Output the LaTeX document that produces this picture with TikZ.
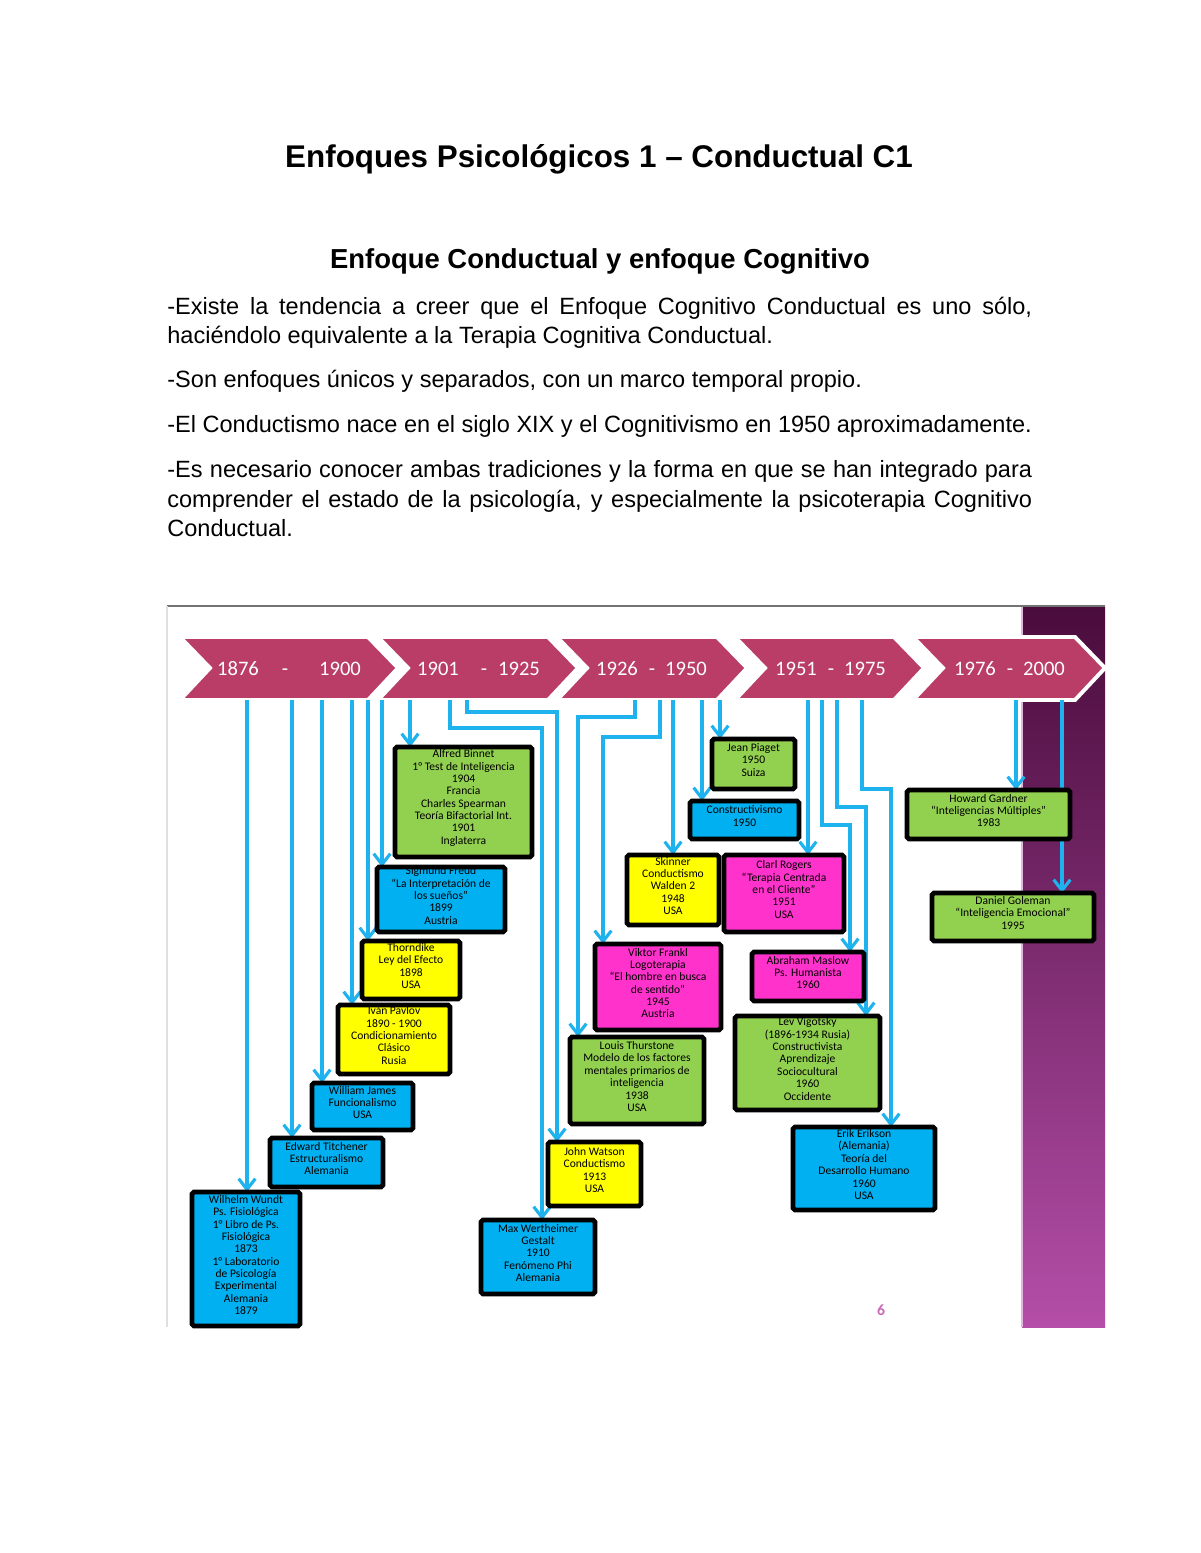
\documentclass[tikz,border=0pt]{standalone}
\usepackage{fontspec}
\setmainfont{Liberation Sans}
\newfontfamily\carl{Carlito}
\usetikzlibrary{arrows.meta,fit}
\definecolor{chev}{RGB}{185,61,102}
\definecolor{connc}{RGB}{30,178,238}
\definecolor{bgreen}{RGB}{146,208,80}
\definecolor{bcyan}{RGB}{0,176,240}
\definecolor{byellow}{RGB}{255,255,0}
\definecolor{bmag}{RGB}{255,51,204}
\definecolor{bandtop}{RGB}{74,12,60}
\definecolor{bandbot}{RGB}{180,78,168}
\definecolor{pnum}{RGB}{200,106,184}
\begin{document}
\begin{tikzpicture}[x=0.51pt,y=-0.51pt,
 box/.style={draw=black, line width=2.4pt, rounded corners=1pt, inner sep=0pt, align=center, font=\carl\fontsize{5.9}{6.3}\selectfont},
 conn/.style={draw=connc, line width=1.6pt, -{Straight Barb[length=5.5pt,width=8.5pt]}},
 chevron/.style={fill=chev, draw=white, line width=2pt, line join=miter},
 yr/.style={text=white, font=\carl\fontsize{10.5}{12}\selectfont, anchor=base, inner sep=0pt},
 para/.style={anchor=base west, inner sep=0pt, font=\fontsize{12}{14}\selectfont},
 gb/.style={box, fill=bgreen}, cb/.style={box, fill=bcyan},
 yb/.style={box, fill=byellow}, mb/.style={box, fill=bmag}]
\useasboundingbox (0,0) rectangle (1200,1553);
\fill[white] (0,0) rectangle (1200,1553);

% ---------- text ----------
\node[anchor=base, inner sep=0pt, font=\bfseries\fontsize{16}{19}\selectfont] (title) at (599,168) {Enfoques Psicológicos 1 – Conductual C1};
\node[anchor=base, inner sep=0pt, font=\bfseries\fontsize{14}{17}\selectfont] (subtitle) at (600,268) {Enfoque Conductual y enfoque Cognitivo};
\node[para] (p1) at (167,314) {\makebox[441pt][s]{-Existe la tendencia a creer que el Enfoque Cognitivo Conductual es uno sólo,}};
\node[para] (p2) at (167,343) {haciéndolo equivalente a la Terapia Cognitiva Conductual.};
\node[para] (p3) at (167,387) {-Son enfoques únicos y separados, con un marco temporal propio.};
\node[para] (p4) at (167,432) {-El Conductismo nace en el siglo XIX y el Cognitivismo en 1950 aproximadamente.};
\node[para] (p5) at (167,477) {\makebox[441pt][s]{-Es necesario conocer ambas tradiciones y la forma en que se han integrado para}};
\node[para] (p6) at (167,507) {\makebox[441pt][s]{comprender el estado de la psicología, y especialmente la psicoterapia Cognitivo}};
\node[para] (p7) at (167,536) {Conductual.};

% ---------- slide frame ----------
\shade[top color=bandtop, bottom color=bandbot] (1022,606) rectangle (1105,1327);
\draw[bandbot!40!white, line width=0.8pt] (1022,606) -- (1022,1327);
\draw[black!55, line width=0.8pt] (167,606) -- (1105,606);
\draw[black!12, line width=0.8pt] (167,606) -- (167,1327);

% ---------- chevrons ----------
\foreach \a/\b in {180/368, 378/548, 557/717, 735/894, 913/1075}{
  \path[chevron] (\a,637) -- (\b,637) -- (\b+30,668) -- (\b,700) -- (\a,700) -- (\a+30,668) -- cycle;
}
\node[yr] (y1a) at (238,675) {1876}; \node[yr] (y1b) at (285,675) {-}; \node[yr] (y1c) at (340,675) {1900};
\node[yr] (y2a) at (438,675) {1901}; \node[yr] (y2b) at (484,675) {-}; \node[yr] (y2c) at (519,675) {1925};
\node[yr] (y3a) at (617,675) {1926}; \node[yr] (y3b) at (652,675) {-}; \node[yr] (y3c) at (686,675) {1950};
\node[yr] (y4a) at (796,675) {1951}; \node[yr] (y4b) at (831,675) {-}; \node[yr] (y4c) at (865,675) {1975};
\node[yr] (y5a) at (975,675) {1976}; \node[yr] (y5b) at (1010,675) {-}; \node[yr] (y5c) at (1044,675) {2000};

% ---------- connectors ----------
\coordinate (a1) at (247,700);  \coordinate (a2) at (292,700);  \coordinate (a3) at (322,700);
\coordinate (a4) at (352,700);  \coordinate (a5) at (368,700);  \coordinate (a6) at (382,700);
\coordinate (a7) at (410,700);  \coordinate (a8) at (450,700);  \coordinate (a9) at (467,700);
\coordinate (a10) at (635,700); \coordinate (a11) at (660,700); \coordinate (a12) at (673,700);
\coordinate (a13) at (702,700); \coordinate (a14) at (720,700); \coordinate (a15) at (808,700);
\coordinate (a16) at (822,700); \coordinate (a17) at (837,700); \coordinate (a18) at (862,700);
\coordinate (a19) at (1016,700); \coordinate (a20) at (1062,700);
\coordinate (e8) at (542,728);  \coordinate (e9) at (557,712);
\coordinate (e10) at (578,717); \coordinate (e11) at (603,737);
\coordinate (e16) at (850,825); \coordinate (e17) at (866,807); \coordinate (e18) at (891,789);

\coordinate (wundtT) at (246,1192); \coordinate (titchT) at (326,1138); \coordinate (jamesT) at (362,1083);
\coordinate (pavlovT) at (394,1005); \coordinate (thornT) at (411,941); \coordinate (freudT) at (441,867);
\coordinate (binetT) at (463,747); \coordinate (wertT) at (538,1220); \coordinate (watsonT) at (594,1142);
\coordinate (thurT) at (637,1037); \coordinate (franklT) at (658,944); \coordinate (skinnerT) at (673,855);
\coordinate (constrT) at (744,801); \coordinate (piagetT) at (753,739); \coordinate (rogersT) at (784,855);
\coordinate (maslowT) at (808,952); \coordinate (vigT) at (807,1016); \coordinate (erikT) at (864,1127);
\coordinate (gardnerT) at (988,790); \coordinate (golemanT) at (1013,893);

\draw[conn] (a1) -- (a1 |- wundtT);
\draw[conn] (a2) -- (a2 |- titchT);
\draw[conn] (a3) -- (a3 |- jamesT);
\draw[conn] (a4) -- (a4 |- pavlovT);
\draw[conn] (a5) -- (a5 |- thornT);
\draw[conn] (a6) -- (a6 |- freudT);
\draw[conn] (a7) -- (a7 |- binetT);
\draw[conn] (a8) |- (e8) -- (e8 |- wertT);
\draw[conn] (a9) |- (e9) -- (e9 |- watsonT);
\draw[conn] (a10) |- (e10) -- (e10 |- thurT);
\draw[conn] (a11) |- (e11) -- (e11 |- franklT);
\draw[conn] (a12) -- (a12 |- skinnerT);
\draw[conn] (a13) -- (a13 |- constrT);
\draw[conn] (a14) -- (a14 |- piagetT);
\draw[conn] (a15) -- (a15 |- rogersT);
\draw[conn] (a16) |- (e16) -- (e16 |- maslowT);
\draw[conn] (a17) |- (e17) -- (e17 |- vigT);
\draw[conn] (a18) |- (e18) -- (e18 |- erikT);
\draw[conn] (a19) -- (a19 |- gardnerT);
\draw[conn] (a20) -- (a20 |- golemanT);

% ---------- boxes ----------
\node[gb, fit={(395,747)(532,857)}] (binet) {Alfred Binnet\\1° Test de Inteligencia\\1904\\Francia\\Charles Spearman\\Teoría Bifactorial Int.\\1901\\Inglaterra};
\node[cb, fit={(377,867)(505,932)}] (freud) {Sigmund Freud\\“La Interpretación de\\los sueños”\\1899\\Austria};
\node[yb, fit={(362,941)(460,999)}] (thorn) {Thorndike\\Ley del Efecto\\1898\\USA};
\node[yb, fit={(338,1005)(450,1074)}] (pavlov) {Iván Pavlov\\1890 - 1900\\Condicionamiento\\Clásico\\Rusia};
\node[cb, fit={(312,1083)(413,1130)}] (james) {William James\\Funcionalismo\\USA};
\node[cb, fit={(270,1138)(383,1187)}] (titch) {Edward Titchener\\Estructuralismo\\Alemania};
\node[cb, fit={(192,1192)(300,1326)}] (wundt) {Wilhelm Wundt\\Ps. Fisiológica\\1° Libro de Ps.\\Fisiológica\\1873\\1° Laboratorio\\de Psicología\\Experimental\\Alemania\\1879};
\node[gb, fit={(712,739)(795,789)}] (piaget) {Jean Piaget\\1950\\Suiza};
\node[cb, fit={(690,801)(799,839)}] (constr) {Constructivismo\\1950};
\node[yb, fit={(627,855)(719,925)}] (skinner) {Skinner\\Conductismo\\Walden 2\\1948\\USA};
\node[mb, fit={(724,855)(844,932)}] (rogers) {Clarl Rogers\\“Terapia Centrada\\en el Cliente”\\1951\\USA};
\node[mb, fit={(595,944)(721,1030)}] (frankl) {Viktor Frankl\\Logoterapia\\“El hombre en busca\\de sentido”\\1945\\Austria};
\node[mb, fit={(752,952)(864,1001)}] (maslow) {Abraham Maslow\\Ps. Humanista\\1960};
\node[gb, fit={(735,1016)(880,1110)}] (vig) {Lev Vigotsky\\(1896-1934 Rusia)\\Constructivista\\Aprendizaje\\Sociocultural\\1960\\Occidente};
\node[gb, fit={(570,1037)(704,1124)}] (thur) {Louis Thurstone\\Modelo de los factores\\mentales primarios de\\inteligencia\\1938\\USA};
\node[yb, fit={(548,1142)(641,1206)}] (watson) {John Watson\\Conductismo\\1913\\USA};
\node[cb, fit={(481,1220)(595,1294)}] (wert) {Max Wertheimer\\Gestalt\\1910\\Fenómeno Phi\\Alemania};
\node[cb, fit={(793,1127)(935,1210)}] (erik) {Erik Erikson\\(Alemania)\\Teoría del\\Desarrollo Humano\\1960\\USA};
\node[gb, fit={(907,790)(1070,839)}] (gardner) {Howard Gardner\\“Inteligencias Múltiples”\\1983};
\node[gb, fit={(932,893)(1094,941)}] (goleman) {Daniel Goleman\\“Inteligencia Emocional”\\1995};

\node[text=pnum, font=\carl\bfseries\fontsize{8}{9}\selectfont, inner sep=0pt] (pnum) at (881,1310) {6};
\end{tikzpicture}
\end{document}
